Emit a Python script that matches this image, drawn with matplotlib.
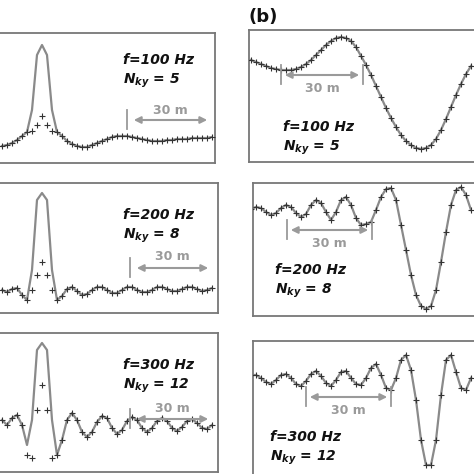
import numpy as np
import matplotlib
matplotlib.use("Agg")
import matplotlib.pyplot as plt

W, H = 474, 474
STEP = 5

# curve samples, pixel-style units (y grows downward), x = start + STEP*i
left_x0 = 2
top_line = [146, 145, 143, 140, 136, 132, 110, 55, 45, 55, 110, 132, 136, 141, 144, 146, 147, 147, 145, 143,
            141, 139, 137, 136, 136, 136, 137, 138, 139, 140, 141, 141, 141, 140, 140, 139, 139, 139, 138, 138,
            138, 138, 137]
top_mark = top_line[:6] + [131, 125, 116, 125, 131] + top_line[11:]

mid_line = [290, 292, 289, 288, 295, 300, 270, 200, 193, 200, 270, 300, 296, 289, 287, 291, 295, 294, 290, 287,
            287, 290, 293, 293, 290, 287, 287, 290, 292, 292, 290, 287, 287, 289, 291, 291, 289, 287, 287, 289,
            291, 290, 288]
mid_mark = mid_line[:6] + [290, 275, 262, 275, 290] + mid_line[11:]

bot_line = [420, 425, 418, 415, 425, 445, 420, 350, 343, 350, 420, 455, 440, 420, 413, 420, 432, 437, 432, 422,
            416, 418, 428, 434, 430, 421, 417, 420, 428, 432, 428, 421, 418, 421, 428, 431, 427, 421, 419, 423,
            428, 429, 425]
bot_mark = bot_line[:5] + [455, 458, 410, 385, 410, 458, 455] + bot_line[12:]

right_x0 = 251
rtop = [60, 62, 64, 66, 68, 69, 70, 70, 70, 69, 67, 64, 60, 55, 50, 45, 41, 38, 37, 38, 41, 47, 56, 65, 75,
        86, 97, 108, 118, 127, 135, 141, 145, 148, 149, 148, 145, 139, 130, 119, 107, 95, 84, 74, 66]
rmid = [209, 207, 208, 212, 215, 213, 208, 205, 207, 213, 217, 214, 205, 200, 203, 212, 220, 212, 200, 197,
        205, 218, 225, 224, 222, 210, 197, 189, 188, 200, 225, 250, 275, 295, 306, 309, 306, 290, 262, 232,
        205, 190, 187, 195, 210]
rbot = [375, 375, 378, 382, 384, 380, 375, 374, 378, 384, 386, 381, 374, 371, 376, 383, 386, 380, 372, 371,
        378, 384, 385, 378, 368, 364, 375, 388, 390, 378, 360, 355, 370, 400, 440, 465, 465, 440, 395, 360,
        355, 372, 388, 390, 378]

labels = [("f=100 Hz", "5"), ("f=200 Hz", "8"), ("f=300 Hz", "12"),
          ("f=100 Hz", "5"), ("f=200 Hz", "8"), ("f=300 Hz", "12")]

GRAY = "#8a8a8a"
DARK = "#333333"

fig = plt.figure(figsize=(W / 100, H / 100), dpi=100)


def panel(box, x0, line, mark):
    x1, y1, x2, y2 = box
    ax = fig.add_axes([x1 / W, 1 - y2 / H, (x2 - x1) / W, (y2 - y1) / H])
    ax.set_xlim(x1, x2)
    ax.set_ylim(y2, y1)
    ax.set_xticks([]); ax.set_yticks([])
    for s in ax.spines.values():
        s.set_color("#777777"); s.set_linewidth(1.3)
    x = x0 + STEP * np.arange(len(line))
    ax.plot(x, line, color=GRAY, lw=1.6, zorder=2, solid_joinstyle="round")
    ax.plot(x, mark, ls="none", marker="+", ms=4.5, mew=0.8, color=DARK, zorder=3)
    return ax


panel((-5, 33, 215, 163), left_x0, top_line, top_mark)
panel((-5, 183, 218, 313), left_x0, mid_line, mid_mark)
panel((-5, 333, 218, 472), left_x0, bot_line, bot_mark)
panel((249, 30, 480, 162), right_x0, rtop, rtop)
panel((253, 183, 480, 316), right_x0, rmid, rmid)
panel((253, 341, 480, 480), right_x0, rbot, rbot)

ov = fig.add_axes([0, 0, 1, 1], facecolor="none")
ov.set_xlim(0, W); ov.set_ylim(H, 0); ov.axis("off")

tpos = [(123, 60), (123, 215), (123, 365), (283, 127), (275, 270), (270, 437)]
for (tx, ty), (f, n) in zip(tpos, labels):
    ov.text(tx, ty, f, fontsize=10, fontweight="bold", style="italic", va="center", color="#111111")
    ov.text(tx, ty + 21, r"$\mathbfit{N}_{\mathbfit{ky}}$" + f" = {n}", fontsize=10, fontweight="bold",
            style="italic", va="center", color="#111111")

ov.text(249, 17, "(b)", fontsize=13, fontweight="bold", va="center", color="#111111")

AG = "#9a9a9a"


def arrow(xa, xb, y, label, ly, bars):
    for bx in bars:
        ov.plot([bx, bx], [y - 10, y + 9], color=AG, lw=1.3)
    ov.annotate("", xy=(xa, y), xytext=(xb, y),
                arrowprops=dict(arrowstyle="<|-|>", color=AG, lw=1.5, mutation_scale=10))
    ov.text((xa + xb) / 2, ly, label, fontsize=9, fontweight="bold", color=AG, ha="center", va="center")


arrow(131, 210, 120, "30 m", 110, [127])
arrow(134, 211, 268, "30 m", 257, [130])
arrow(134, 211, 419, "30 m", 408, [130])
arrow(282, 362, 75, "30 m", 88, [281, 363])
arrow(288, 371, 230, "30 m", 243, [287, 372])
arrow(307, 390, 397, "30 m", 411, [306, 391])

fig.savefig("out.png", dpi=100)
